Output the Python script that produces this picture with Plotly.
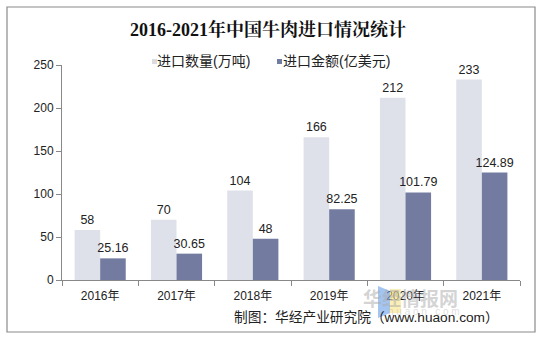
import plotly.graph_objects as go

years = ["2016年", "2017年", "2018年", "2019年", "2020年", "2021年"]
volume = [58, 70, 104, 166, 212, 233]          # 进口数量 (万吨)
amount = [25.16, 30.65, 48, 82.25, 101.79, 124.89]  # 进口金额 (亿美元)
volume_labels = ["58", "70", "104", "166", "212", "233"]
amount_labels = ["25.16", "30.65", "48", "82.25", "101.79", "124.89"]
series_names = ["进口数量(万吨)", "进口金额(亿美元)"]
series_colors = ["#dfe1ea", "#737ca0"]
legend_swatch = ["#dcdcdc", "#737ca0"]

W, H = 547, 344
L, R, T, B = 62, 27, 65, 64
PW, PH = W - L - R, H - T - B


def px_x(x):
    return (x - L) / PW


def px_y(y):
    return (H - B - y) / PH


fig = go.Figure()
for name, vals, labels, color in [
    (series_names[0], volume, volume_labels, series_colors[0]),
    (series_names[1], amount, amount_labels, series_colors[1]),
]:
    fig.add_trace(go.Bar(
        name=name, x=years, y=vals,
        text=labels, textposition="outside", cliponaxis=False,
        constraintext="none",
        marker=dict(color=color, line=dict(width=0)),
        textfont=dict(size=12.5, color="#222"),
        showlegend=False,
    ))

fig.update_layout(
    width=W, height=H,
    margin=dict(l=L, r=R, t=T, b=B),
    paper_bgcolor="white", plot_bgcolor="white",
    barmode="group", bargap=0.33, bargroupgap=0,
    font=dict(family="Liberation Sans, Noto Sans CJK SC, sans-serif", size=12, color="#333"),
    title=dict(
        text="<b>2016-2021年中国牛肉进口情况统计</b>",
        x=268 / W, xanchor="center", y=1 - 30 / H, yanchor="middle",
        font=dict(family="Liberation Serif, Noto Serif CJK SC, Noto Sans CJK SC, serif",
                  size=18, color="#111"),
    ),
    uniformtext=dict(mode=False),
)

fig.update_xaxes(
    type="category", showline=True, linecolor="#888", linewidth=1,
    ticks="outside", tickson="boundaries", ticklen=5, tickcolor="#888",
    ticklabelstandoff=5,
    showgrid=False, tickfont=dict(size=12, color="#222"),
)
fig.update_yaxes(
    range=[0, 250], dtick=50, showline=True, linecolor="#888", linewidth=1,
    ticks="outside", ticklen=5, tickcolor="#888", showgrid=False,
    zeroline=False, tickfont=dict(size=12, color="#222"),
)

# legend: small square swatch followed by the series name
legend_pos = [(152, 157), (277, 283)]
for (sx, tx), name, sw in zip(legend_pos, series_names, legend_swatch):
    fig.add_shape(type="rect", xref="paper", yref="paper",
                  x0=px_x(sx), x1=px_x(sx + 5), y0=px_y(64), y1=px_y(59),
                  fillcolor=sw, line=dict(width=0))
    fig.add_annotation(text=name, xref="paper", yref="paper",
                       x=px_x(tx), xanchor="left", y=px_y(61), yanchor="middle",
                       showarrow=False, xshift=-2,
                       font=dict(size=14, color="#222"))

# outer frame
fig.add_shape(type="rect", xref="paper", yref="paper",
              x0=px_x(7), x1=px_x(535), y0=px_y(332), y1=px_y(7),
              line=dict(color="#8a8a8a", width=1.2), layer="below")

# watermark
fig.add_shape(type="path", xref="paper", yref="paper",
              path="M {0} {1} L {2} {3} L {2} {4} L {0} {5} Z".format(
                  px_x(378), px_y(286), px_x(390), px_y(291), px_y(313), px_y(318)),
              fillcolor="rgba(90,150,230,0.55)", line=dict(width=0))
fig.add_shape(type="rect", xref="paper", yref="paper",
              x0=px_x(390), x1=px_x(401), y0=px_y(313), y1=px_y(289),
              fillcolor="rgba(250,225,120,0.55)", line=dict(width=0))
fig.add_annotation(text="<b>华经情报网</b>", xref="paper", yref="paper",
                   x=px_x(460), y=px_y(297), yanchor="middle", showarrow=False,
                   font=dict(size=19, color="rgba(170,170,170,0.5)",
                             family="Noto Sans CJK SC"))
fig.add_annotation(text="h u a o n . c o m", xref="paper", yref="paper",
                   x=px_x(462), y=px_y(311), yanchor="middle", showarrow=False,
                   font=dict(size=10, color="rgba(190,190,190,0.5)"))

# source note
fig.add_annotation(text="制图：华经产业研究院（www.huaon.com）", xref="paper", yref="paper",
                   x=px_x(501), xanchor="right", y=px_y(317),
                   yanchor="middle", showarrow=False,
                   font=dict(size=13.7, color="#222",
                             family="Liberation Sans, Noto Sans CJK SC, sans-serif"))

fig.write_html("out.html")
